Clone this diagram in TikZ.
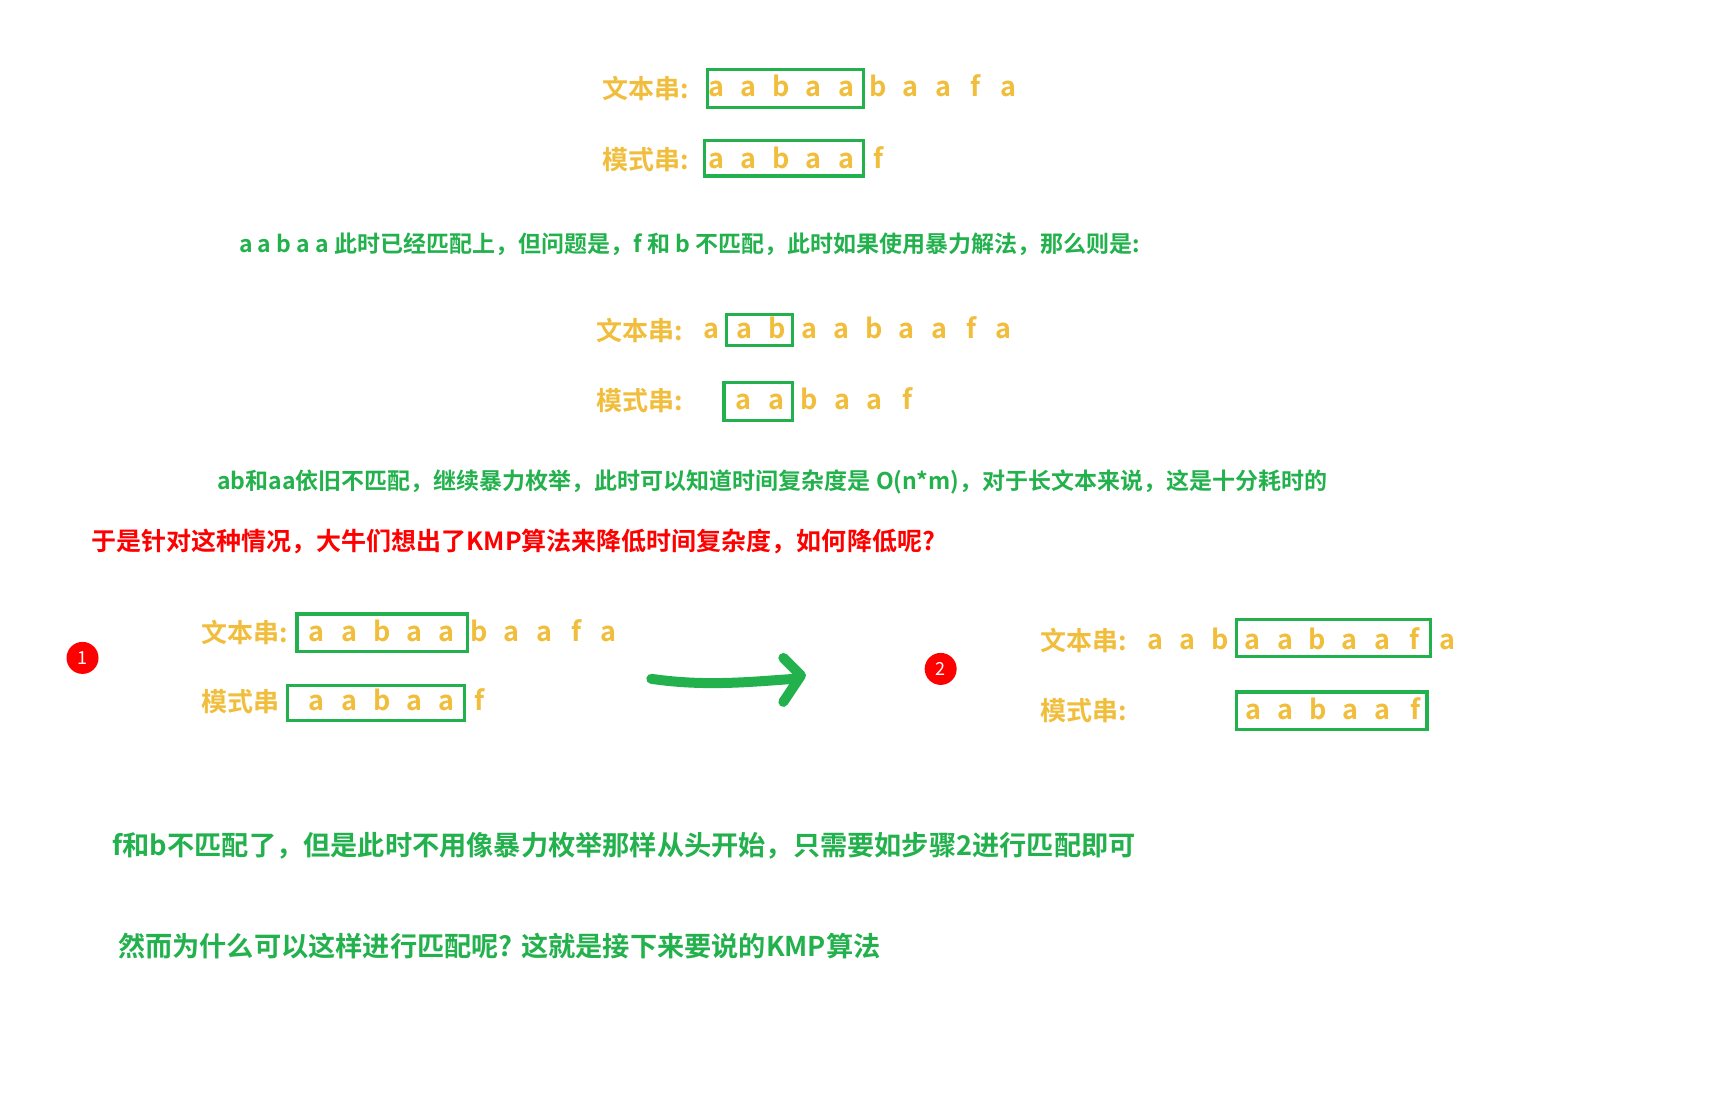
\documentclass[tikz,border=0pt]{standalone}
\usepackage{fontspec}
\setmainfont{Noto Sans CJK SC}
\newfontfamily\cjkb{Noto Sans CJK SC Bold}
\definecolor{yel}{HTML}{F0BE3C}
\definecolor{grn}{HTML}{22B14C}
\definecolor{rd}{HTML}{FF0000}
\begin{document}
\begin{tikzpicture}[x=0.55pt,y=-0.55pt,
  lbl/.style={anchor=west,text=yel,font=\cjkb\fontsize{13}{15}\selectfont,inner sep=0},
  ch/.style={text=yel,font=\cjkb\fontsize{13.5}{15}\selectfont,inner sep=0,anchor=base},
  gbox/.style={draw=grn,line width=1.6pt},
  gtxt/.style={anchor=west,text=grn,font=\cjkb\fontsize{11.5}{13}\selectfont,inner sep=0},
  gtxtb/.style={anchor=west,text=grn,font=\cjkb\fontsize{13.6}{15}\selectfont,inner sep=0},
  rtxt/.style={anchor=west,text=rd,font=\cjkb\fontsize{12.5}{14}\selectfont,inner sep=0},
  num/.style={circle,fill=rd,text=white,minimum size=16pt,inner sep=0,font=\fontsize{9}{10}\selectfont}]
\useasboundingbox (0,0) rectangle (1567,1012);
\newcommand\letters[4]{% x y spacing list
  \foreach \c [count=\i from 0] in {#4} {\node[ch] at ({#1+\i*#3},{#2+8}) {\c};}}
% row 1
\node[lbl] (t1) at (547,80) {文本串:};
\letters{651}{80}{29.5}{a,a,b,a,a,b,a,a,f,a}
\draw[gbox] (643,63) rectangle (785,98);
\node[lbl] (p1) at (547,145) {模式串:};
\letters{651}{145}{29.5}{a,a,b,a,a,f}
\draw[gbox] (640,128) rectangle (785,160);
\node[gtxt] (g1) at (217,222) {a a b a a 此时已经匹配上，但问题是，f 和 b 不匹配，此时如果使用暴力解法，那么则是:};
% row 3
\node[lbl] (t2) at (542,300) {文本串:};
\letters{647}{300}{29.5}{a,a,b,a,a,b,a,a,f,a}
\draw[gbox] (660,286) rectangle (720,314);
\node[lbl] (p2) at (542,364) {模式串:};
\letters{676}{364}{29.8}{a,a,b,a,a,f}
\draw[gbox] (658,348) rectangle (720,382);
\node[gtxt] (g2) at (197,438) {ab和aa依旧不匹配，继续暴力枚举，此时可以知道时间复杂度是 O(n*m)，对于长文本来说，这是十分耗时的};
\node[rtxt] (r1) at (83,492) {于是针对这种情况，大牛们想出了KMP算法来降低时间复杂度，如何降低呢?};
% step 1
\node[num] (n1) at (75,598) {1};
\node[lbl] (t3) at (183,575) {文本串:};
\letters{288}{575}{29.5}{a,a,b,a,a,b,a,a,f,a}
\draw[gbox] (270,558) rectangle (425,592);
\node[lbl] (p3) at (183,638) {模式串};
\letters{288}{638}{29.5}{a,a,b,a,a,f}
\draw[gbox] (261,623) rectangle (422,655);
% arrow
\coordinate (a1) at (592,617);
\draw[grn,line width=5pt,line cap=round] (a1) .. controls (640,624) and (680,620) .. (722,617);
\draw[grn,line width=5pt,line cap=round,line join=round] (712,598) -- (728,614) -- (712,638);
% step 2
\node[num] (n2) at (855,608) {2};
\node[lbl] (t4) at (945,582) {文本串:};
\letters{1050}{582}{29.5}{a,a,b,a,a,b,a,a,f,a}
\draw[gbox] (1124,563) rectangle (1300,597);
\node[lbl] (p4) at (945,646) {模式串:};
\letters{1139}{646}{29.5}{a,a,b,a,a,f}
\draw[gbox] (1124,629) rectangle (1297,663);
\node[gtxtb] (g3) at (102,769) {f和b不匹配了，但是此时不用像暴力枚举那样从头开始，只需要如步骤2进行匹配即可};
\node[gtxtb] (g4) at (107,860) {然而为什么可以这样进行匹配呢? 这就是接下来要说的KMP算法};
\end{tikzpicture}
\end{document}
